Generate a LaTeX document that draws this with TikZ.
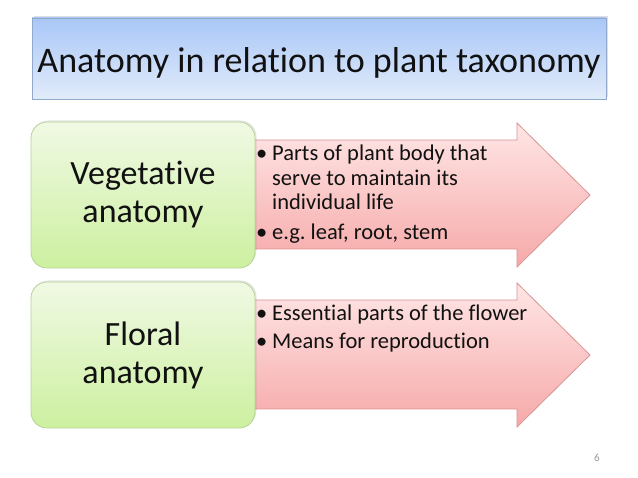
\documentclass[tikz,border=0pt]{standalone}
\usepackage{fontspec}
\setmainfont{Carlito}[Ligatures={NoCommon}]
\usetikzlibrary{shadows}
\definecolor{titletop}{HTML}{A9C7F7}
\definecolor{titlebot}{HTML}{E1EBFA}
\definecolor{titleline}{HTML}{93A9CC}
\definecolor{greentop}{HTML}{F0F9E4}
\definecolor{greenbot}{HTML}{CDF0A0}
\definecolor{greenline}{HTML}{B5D396}
\definecolor{redtop}{HTML}{FFE6E6}
\definecolor{redbot}{HTML}{F6A9A9}
\definecolor{redline}{HTML}{D99595}
\definecolor{txt}{HTML}{111111}
\tikzset{
  titlebox/.style={draw=titleline, line width=0.8pt, top color=titletop, bottom color=titlebot,
    drop shadow={shadow xshift=1.5pt, shadow yshift=1.5pt, opacity=0.25}},
  greenbox/.style={draw=greenline, line width=0.8pt, top color=greentop, bottom color=greenbot,
    rounded corners=16pt, drop shadow={shadow xshift=1.5pt, shadow yshift=1.5pt, opacity=0.2}},
  redarrow/.style={draw=redline, line width=0.8pt, top color=redtop, bottom color=redbot},
  boxtext/.style={font=\fontsize{34}{38}\selectfont, text=txt, align=center},
  bullettext/.style={font=\fontsize{22.5}{26}\selectfont, text=txt, anchor=base west, inner sep=0pt},
}
\begin{document}
\begin{tikzpicture}[x=1pt, y=-1pt]
\useasboundingbox (0,0) rectangle (638,478);
\fill[white] (0,0) rectangle (638,478);
% title
\path[titlebox] (32,18) rectangle (606,99);
\node[font=\fontsize{36}{42}\selectfont, text=txt, anchor=base] (title) at (319,73) {Anatomy in relation to plant taxonomy};
% arrow 1
\path[redarrow] (240,140) -- (517,140) -- (517,123) -- (590,195) -- (517,267) -- (517,249) -- (240,249) -- cycle;
\path[greenbox] (31,122) rectangle (255,268);
\node[boxtext] (veg) at (143,195) {Vegetative\\anatomy};
\node[bullettext] (b1) at (256,161) {•};
\node[bullettext] (l1) at (272,161) {Parts of plant body that};
\node[bullettext] (l2) at (272,186) {serve to maintain its};
\node[bullettext] (l3) at (272,210) {individual life};
\node[bullettext] (b2) at (256,240) {•};
\node[bullettext] (l4) at (272,240) {e.g.\ leaf, root, stem};
% arrow 2
\path[redarrow] (240,300) -- (517,300) -- (517,283) -- (590,355) -- (517,427) -- (517,409) -- (240,409) -- cycle;
\path[greenbox] (31,282) rectangle (255,428);
\node[boxtext] (flo) at (143,355) {Floral\\anatomy};
\node[bullettext] (b3) at (256,321) {•};
\node[bullettext] (m1) at (272,321) {Essential parts of the flower};
\node[bullettext] (b4) at (256,349) {•};
\node[bullettext] (m2) at (272,349) {Means for reproduction};
% page number
\node[font=\fontsize{11}{13}\selectfont, text=gray!80] (pg) at (597,458) {6};
\end{tikzpicture}
\end{document}
